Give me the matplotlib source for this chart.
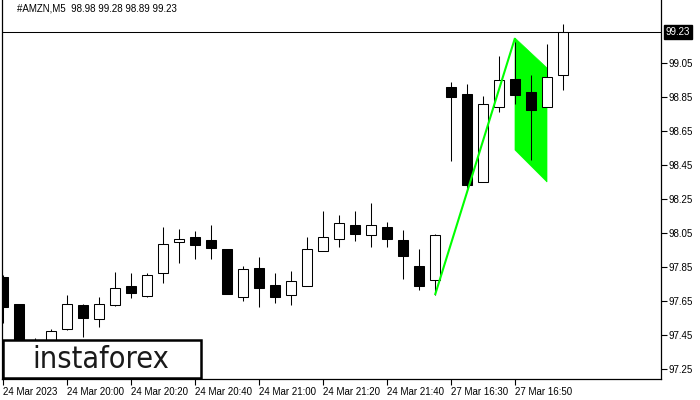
import matplotlib
matplotlib.use('Agg')
import matplotlib.pyplot as plt
from matplotlib.patches import Rectangle, Polygon

# ---- data ----
opens  = [97.79, 97.63, 97.38, 97.41, 97.485, 97.626, 97.544, 97.626, 97.738, 97.68,
          97.815, 97.997, 98.026, 98.009, 97.956, 97.674, 97.844, 97.744, 97.685, 97.738,
          97.944, 98.015, 98.097, 98.038, 98.085, 98.009, 97.856, 97.774, 98.909, 98.868,
          98.35, 98.791, 98.956, 98.879, 98.791, 98.98]
highs  = [97.803, 97.63, 97.43, 97.485, 97.685, 97.63, 97.674, 97.82, 97.815, 97.815,
          98.085, 98.074, 98.062, 98.097, 97.956, 97.856, 97.909, 97.815, 97.826, 98.026,
          98.179, 98.156, 98.179, 98.226, 98.115, 98.068, 97.956, 98.044, 98.938, 98.926,
          98.856, 99.091, 99.174, 98.979, 99.162, 99.28]
lows   = [97.521, 97.37, 97.34, 97.39, 97.48, 97.438, 97.497, 97.62, 97.668, 97.674,
          97.756, 97.874, 97.897, 97.897, 97.69, 97.65, 97.615, 97.638, 97.626, 97.738,
          97.944, 97.968, 98.003, 97.968, 97.968, 97.779, 97.715, 97.685, 98.474, 98.315,
          98.35, 98.762, 98.809, 98.479, 98.79, 98.89]
closes = [97.615, 97.42, 97.41, 97.474, 97.632, 97.55, 97.632, 97.726, 97.697, 97.803,
          97.985, 98.015, 97.979, 97.962, 97.691, 97.838, 97.726, 97.674, 97.768, 97.956,
          98.026, 98.109, 98.044, 98.097, 98.015, 97.915, 97.738, 98.038, 98.852, 98.332,
          98.809, 98.95, 98.862, 98.774, 98.968, 99.23]

tick_idx = [0, 4, 8, 12, 16, 20, 24, 28, 32]
tick_labels = ["24 Mar 2023", "24 Mar 20:00", "24 Mar 20:20", "24 Mar 20:40",
               "24 Mar 21:00", "24 Mar 21:20", "24 Mar 21:40", "27 Mar 16:30",
               "27 Mar 16:50"]
ytick_vals = [97.25, 97.45, 97.65, 97.85, 98.05, 98.25, 98.45, 98.65, 98.85, 99.05]

pole_x = [27, 32]
pole_y = [97.685, 99.197]
flag_x = [32, 34, 34, 32]
flag_y = [99.197, 99.021, 98.35, 98.538]

last_price = 99.23
title = "#AMZN,M5  98.98 99.28 98.89 99.23"
logo_text = "instaforex"

# ---- figure ----
W, H = 700, 400
fig = plt.figure(figsize=(7, 4), dpi=100)
fig.patch.set_facecolor('white')
ax = fig.add_axes([2 / W, 21 / H, 659 / W, 379 / H])
ax.set_facecolor('white')
ax.set_xlim(-0.0625, 41.125)
ax.set_ylim(97.1912, 99.4206)

# flag polygon (behind candles)
ax.add_patch(Polygon(list(zip(flag_x, flag_y)), closed=True, facecolor='#00ff00',
                     edgecolor='#00ff00', lw=0.5, zorder=1))

bw = 0.68
for i, (o, h, l, c) in enumerate(zip(opens, highs, lows, closes)):
    ax.vlines(i, l, h, color='black', lw=0.75, zorder=2)
    bull = c >= o
    ax.add_patch(Rectangle((i - bw / 2, min(o, c)), bw, max(abs(c - o), 0.004),
                           facecolor='white' if bull else 'black',
                           edgecolor='black', lw=0.75, zorder=3))

# flag pole
ax.plot(pole_x, pole_y, color='#00ff00', lw=1.5, zorder=4, solid_capstyle='butt')

# current price line
ax.axhline(last_price, color='black', lw=0.75, zorder=5)

# axes styling
for s in ['left', 'bottom', 'right']:
    ax.spines[s].set_linewidth(0.9)
    ax.spines[s].set_color('black')
ax.spines['top'].set_visible(False)

ax.yaxis.tick_right()
ax.set_yticks(ytick_vals)
ax.set_yticklabels([f"{v:.2f}" for v in ytick_vals])
ax.tick_params(axis='y', direction='out', length=4, width=0.8, pad=1.5,
               labelsize=7, colors='black')
ax.set_xticks(tick_idx)
ax.set_xticklabels(tick_labels, ha='left')
ax.tick_params(axis='x', direction='out', length=4, width=0.8, pad=1.5,
               labelsize=7, colors='black')
for lab in ax.get_xticklabels() + ax.get_yticklabels():
    lab.set_fontfamily(['Liberation Sans', 'DejaVu Sans'])

# price box
ax.annotate(f"{last_price:.2f}", xy=(1.0, last_price), xycoords=('axes fraction', 'data'),
            xytext=(3.2, 0), textcoords='offset points', ha='left', va='center',
            fontsize=7, color='white', family=['Liberation Sans', 'DejaVu Sans'],
            bbox=dict(boxstyle='square,pad=0.2', fc='black', ec='black'),
            annotation_clip=False, zorder=10)

# title
fig.text(17 / W, 1 - 8.5 / H, title, ha='left', va='center', fontsize=7,
         family=['Liberation Sans', 'DejaVu Sans'], color='black')

# logo
logo = Rectangle((3 / W, 22 / H), 198 / W, 38 / H, transform=fig.transFigure,
                 facecolor='white', edgecolor='black', lw=1.8, zorder=20, clip_on=False)
ax.add_patch(logo)
ax.text(101 / W, 1 - 359 / H, logo_text, transform=fig.transFigure, ha='center',
        va='center', fontsize=22, color='#1a1a1a', family='DejaVu Sans',
        fontstretch='condensed', fontweight='light', zorder=21, clip_on=False)

fig.savefig('out.png', dpi=100)
